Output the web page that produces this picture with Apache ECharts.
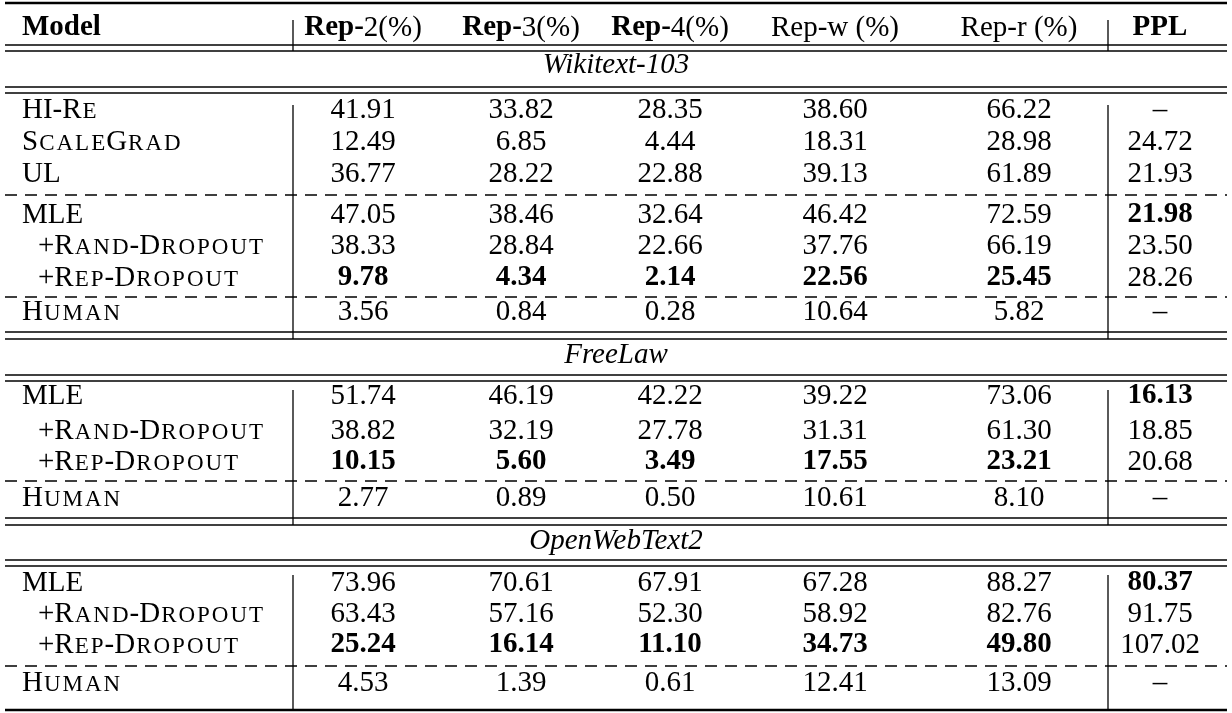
<!DOCTYPE html>
<html>
<head>
<meta charset="utf-8">
<script src="https://cdn.jsdelivr.net/npm/echarts@6/dist/echarts.min.js"></script>
<style>html,body{margin:0;padding:0;background:#fff}#main{width:1232px;height:713px}</style>
</head>
<body>
<div id="main"></div>
<script>
// table content
var headers = ['Rep-2(%)', 'Rep-3(%)', 'Rep-4(%)', 'Rep-w (%)', 'Rep-r (%)', 'PPL'];
var sections = ['Wikitext-103', 'FreeLaw', 'OpenWebText2'];
var wikiModels = ['HI-Re', 'ScaleGrad', 'UL', 'MLE', '+Rand-Dropout', '+Rep-Dropout', 'Human'];
var wikiValues = [
    ['41.91', '33.82', '28.35', '38.60', '66.22', '–'],
    ['12.49', '6.85', '4.44', '18.31', '28.98', '24.72'],
    ['36.77', '28.22', '22.88', '39.13', '61.89', '21.93'],
    ['47.05', '38.46', '32.64', '46.42', '72.59', '21.98'],
    ['38.33', '28.84', '22.66', '37.76', '66.19', '23.50'],
    ['9.78', '4.34', '2.14', '22.56', '25.45', '28.26'],
    ['3.56', '0.84', '0.28', '10.64', '5.82', '–']
];
var lawModels = ['MLE', '+Rand-Dropout', '+Rep-Dropout', 'Human'];
var lawValues = [
    ['51.74', '46.19', '42.22', '39.22', '73.06', '16.13'],
    ['38.82', '32.19', '27.78', '31.31', '61.30', '18.85'],
    ['10.15', '5.60', '3.49', '17.55', '23.21', '20.68'],
    ['2.77', '0.89', '0.50', '10.61', '8.10', '–']
];
var owtModels = ['MLE', '+Rand-Dropout', '+Rep-Dropout', 'Human'];
var owtValues = [
    ['73.96', '70.61', '67.91', '67.28', '88.27', '80.37'],
    ['63.43', '57.16', '52.30', '58.92', '82.76', '91.75'],
    ['25.24', '16.14', '11.10', '34.73', '49.80', '107.02'],
    ['4.53', '1.39', '0.61', '12.41', '13.09', '–']
];
// bold cells: [section, row, col]
var boldCells = [
    [0, 5, 0], [0, 5, 1], [0, 5, 2], [0, 5, 3], [0, 5, 4], [0, 3, 5],
    [1, 2, 0], [1, 2, 1], [1, 2, 2], [1, 2, 3], [1, 2, 4], [1, 0, 5],
    [2, 2, 0], [2, 2, 1], [2, 2, 2], [2, 2, 3], [2, 2, 4], [2, 0, 5]
];
var smallCaps = ['HI-Re', 'ScaleGrad', '+Rand-Dropout', '+Rep-Dropout', 'Human'];

// layout
var colX = [363, 521, 670, 835, 1019, 1160];
var sectionRowsY = [
    [110, 142, 174, 215, 246, 278, 312],
    [396, 431, 462, 498],
    [583, 614, 645, 683]
];
var sectionTitleY = [65, 355, 541];
var FONT = '"Liberation Serif", "DejaVu Serif", serif';
var FS = 29, FS_SC = 23;

function scText(s) {
    var out = '';
    for (var i = 0; i < s.length; i++) {
        var c = s[i];
        if (c >= 'a' && c <= 'z') out += '{s|' + c.toUpperCase() + '}';
        else out += '{b|' + c + '}';
    }
    return out;
}

var allModels = [wikiModels, lawModels, owtModels];
var allValues = [wikiValues, lawValues, owtValues];

var cells = [];
headers.forEach(function (h, c) {
    cells.push({ x: colX[c], y: 28, text: h, kind: 'header' });
});
cells.push({ x: 22, y: 28, text: 'Model', kind: 'bold', align: 'left' });
sections.forEach(function (s, k) {
    cells.push({ x: 616, y: sectionTitleY[k], text: s, kind: 'italic' });
    allModels[k].forEach(function (m, r) {
        var ind = m[0] === '+' ? 38 : 22;
        cells.push({ x: ind, y: sectionRowsY[k][r], text: m, kind: smallCaps.indexOf(m) >= 0 ? 'sc' : 'plain', align: 'left' });
        allValues[k][r].forEach(function (v, c) {
            var b = boldCells.some(function (bc) { return bc[0] === k && bc[1] === r && bc[2] === c; });
            cells.push({ x: colX[c], y: sectionRowsY[k][r], text: v, kind: b ? 'bold' : 'plain' });
        });
    });
});

// rules: [y, x1, x2, type]
var rules = [
    [3, 5, 1227, 'thick'],
    [45, 5, 1227, 'thin'], [51, 5, 1227, 'thin'],
    [87, 5, 1227, 'thin'], [93, 5, 1227, 'thin'],
    [195, 5, 1227, 'dash'], [297, 5, 1227, 'dash'],
    [332, 5, 1227, 'thin'], [339, 5, 1227, 'thin'],
    [375, 5, 1227, 'thin'], [381, 5, 1227, 'thin'],
    [481, 5, 1227, 'dash'],
    [518, 5, 1227, 'thin'], [525, 5, 1227, 'thin'],
    [560, 5, 1227, 'thin'], [566, 5, 1227, 'thin'],
    [666, 5, 1227, 'dash'],
    [710, 5, 1227, 'thick']
];
// vertical rules: [x, y1, y2]
var vrules = [
    [293, 20, 51], [293, 105, 339], [293, 390, 525], [293, 575, 710],
    [1108, 20, 51], [1108, 105, 339], [1108, 390, 525], [1108, 575, 710]
];

function cellText(d) {
    var st = { fontFamily: FONT, fontSize: FS, fill: '#000', align: d.align || 'center', verticalAlign: 'middle' };
    if (d.kind === 'header') {
        var m = d.text.match(/^(Rep-)(\d.*)$/);
        if (m) {
            st.text = '{b|' + m[1] + '}{n|' + m[2] + '}';
            st.rich = { b: { fontFamily: FONT, fontSize: FS, fontWeight: 'bold' }, n: { fontFamily: FONT, fontSize: FS } };
        } else {
            st.text = d.text;
            if (d.text === 'PPL') st.fontWeight = 'bold';
        }
    } else if (d.kind === 'sc') {
        st.text = scText(d.text);
        st.rich = { b: { fontFamily: FONT, fontSize: FS }, s: { fontFamily: FONT, fontSize: FS_SC, padding: [3, 1, 0, 1] } };
    } else {
        st.text = d.text;
        if (d.kind === 'bold') st.fontWeight = 'bold';
        if (d.kind === 'italic') st.fontStyle = 'italic';
    }
    return st;
}

var myChart = echarts.init(document.getElementById('main'));
var option = {
    animation: false,
    grid: { left: 0, right: 0, top: 0, bottom: 0 },
    xAxis: { type: 'value', min: 0, max: 1232, show: false },
    yAxis: { type: 'value', min: 0, max: 713, inverse: true, show: false },
    series: [{
        type: 'custom',
        data: rules,
        renderItem: function (params, api) {
            var r = rules[params.dataIndex];
            var p1 = api.coord([r[1], r[0]]), p2 = api.coord([r[2], r[0]]);
            return {
                type: 'line',
                shape: { x1: p1[0], y1: p1[1], x2: p2[0], y2: p2[1] },
                style: { stroke: '#000', lineWidth: r[3] === 'thick' ? 2.6 : 1.4, lineDash: r[3] === 'dash' ? [12, 8] : null }
            };
        }
    }, {
        type: 'custom',
        data: vrules,
        renderItem: function (params, api) {
            var r = vrules[params.dataIndex];
            var p1 = api.coord([r[0], r[1]]), p2 = api.coord([r[0], r[2]]);
            return {
                type: 'line',
                shape: { x1: p1[0], y1: p1[1], x2: p2[0], y2: p2[1] },
                style: { stroke: '#000', lineWidth: 1.3 }
            };
        }
    }, {
        type: 'custom',
        data: cells.map(function (c) { return [c.x, c.y]; }),
        renderItem: function (params, api) {
            var d = cells[params.dataIndex];
            var p = api.coord([d.x, d.y]);
            var st = cellText(d);
            st.x = p[0]; st.y = p[1];
            return { type: 'text', style: st };
        }
    }]
};
myChart.setOption(option);
</script>
</body>
</html>
